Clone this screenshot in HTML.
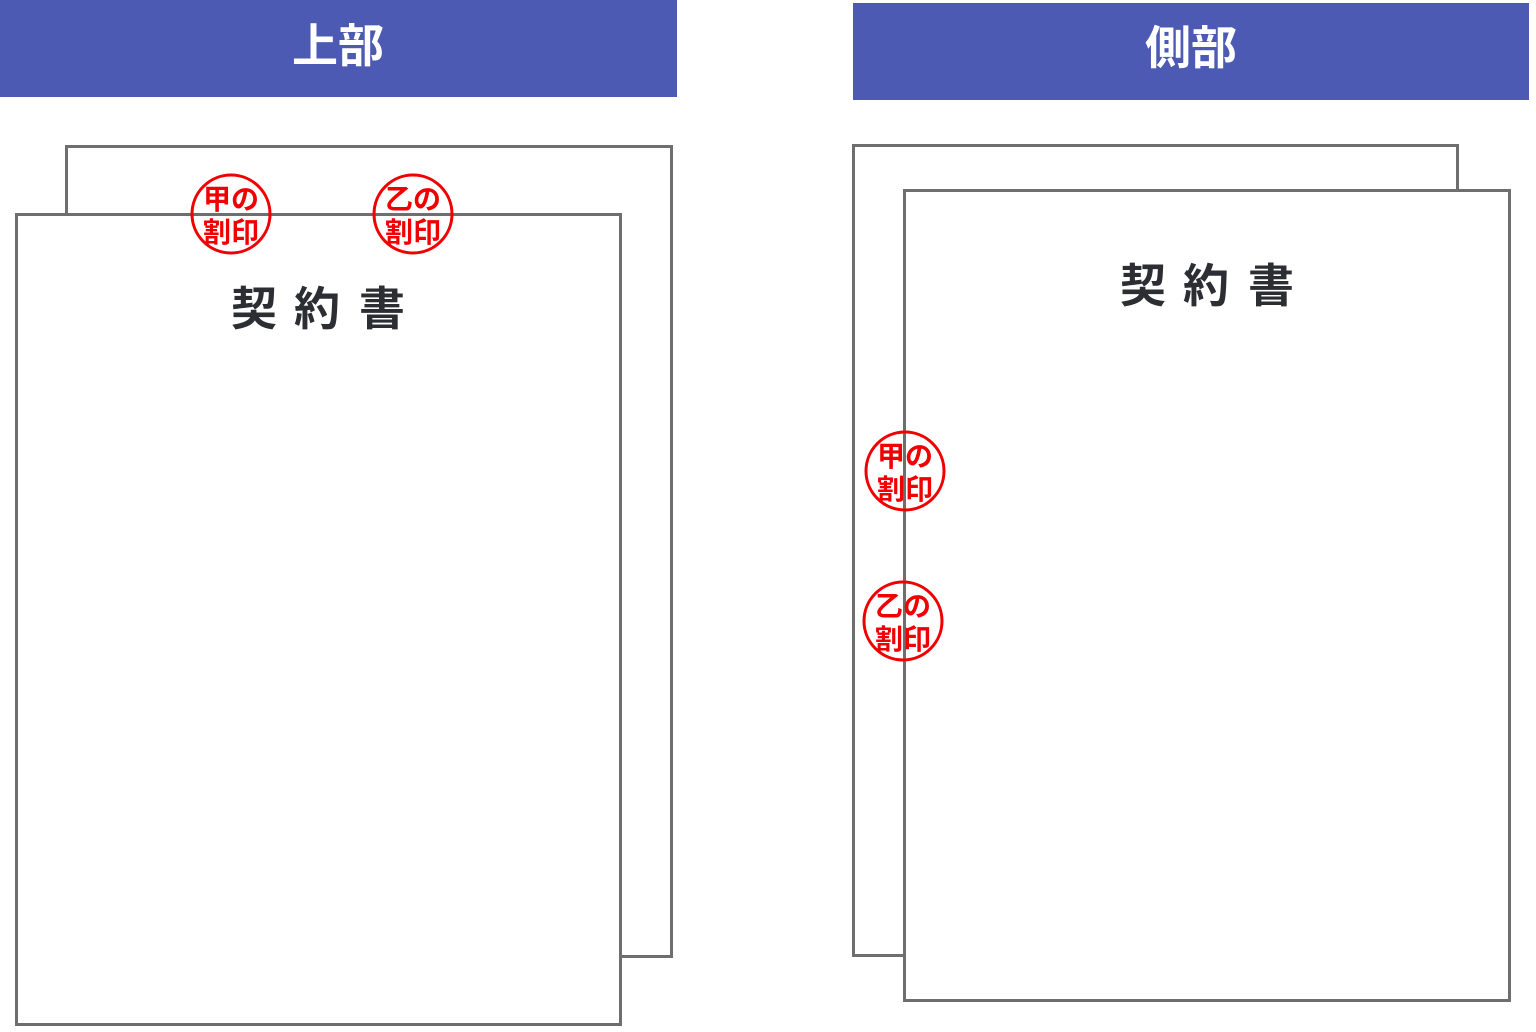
<!DOCTYPE html>
<html><head><meta charset="utf-8"><style>
html,body{margin:0;padding:0;background:#fff;}
svg{display:block;}
text{font-family:"Liberation Sans","Noto Sans CJK JP",sans-serif;font-weight:bold;}
</style></head><body>
<svg width="1536" height="1032" viewBox="0 0 1536 1032" xmlns="http://www.w3.org/2000/svg">
<rect x="0" y="0" width="677" height="97" fill="#4c5ab4"/>
<rect x="853" y="3" width="676" height="97" fill="#4c5ab4"/>
<text x="338" y="62" font-size="46" fill="#fff" text-anchor="middle">上部</text>
<text x="1191" y="64" font-size="46" fill="#fff" text-anchor="middle">側部</text>

<g fill="#fff" stroke="#6e6e6e" stroke-width="3">
<rect x="66.5" y="146.5" width="605" height="810"/>
<rect x="16.5" y="214.5" width="604" height="810"/>
<rect x="853.5" y="145.5" width="604" height="810"/>
<rect x="904.5" y="190.5" width="605" height="810"/>
</g>

<g font-size="46" fill="#2d2e33" text-anchor="middle">
<text x="254" y="325">契</text><text x="317" y="325">約</text><text x="382" y="325">書</text>
<text x="1143" y="302">契</text><text x="1206" y="302">約</text><text x="1271" y="302">書</text>
</g>

<g fill="none" stroke="#f00000" stroke-width="3">
<circle cx="231" cy="214" r="39"/>
<circle cx="413" cy="214" r="39"/>
<circle cx="905" cy="471" r="39"/>
<circle cx="903" cy="621" r="39"/>
</g>
<g font-size="28" fill="#f00000" text-anchor="middle">
<text x="231" y="209">甲の</text><text x="231" y="242">割印</text>
<text x="413" y="209">乙の</text><text x="413" y="242">割印</text>
<text x="905" y="466">甲の</text><text x="905" y="499">割印</text>
<text x="903" y="616">乙の</text><text x="903" y="649">割印</text>
</g>
</svg>
</body></html>
